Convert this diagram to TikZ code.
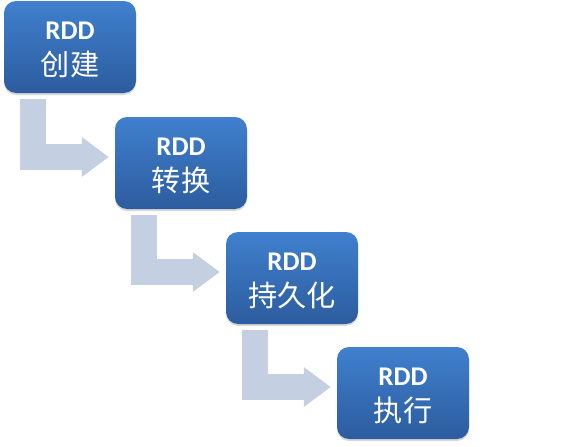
\documentclass[tikz,border=0pt]{standalone}
\usepackage{fontspec}
\setmainfont{Carlito}
\newfontfamily\cjk[Scale=1.08]{Noto Sans CJK SC}
\usetikzlibrary{arrows.meta,shadows}
\definecolor{stagetop}{RGB}{64,128,206}
\definecolor{stagebottom}{RGB}{44,92,158}
\definecolor{flowgray}{RGB}{197,207,226}
\newcommand{\stagetext}[1]{\rule{0pt}{24pt}\textbf{RDD}\\{\cjk #1}}
\begin{document}
\begin{tikzpicture}[x=1pt, y=-1pt,
		stage/.style={rounded corners=12pt, minimum width=132pt, minimum height=92pt, top color=stagetop, bottom color=stagebottom, text=white, align=center, font=\fontsize{27pt}{36pt}\selectfont, drop shadow={opacity=0.3, shadow xshift=0pt, shadow yshift=-2pt}},
		flow/.style={draw=flowgray, line width=26pt, line join=miter, -{Triangle[length=27pt, width=38pt]}, shorten >=6pt}]
		\useasboundingbox (0,0) rectangle (566,447);

		\node[stage] (create) at (70,47) {\stagetext{创建}};
		\node[stage] (transform) at (181,163) {\stagetext{转换}};
		\node[stage] (persist) at (292,278) {\stagetext{持久化}};
		\node[stage] (execute) at (403,393) {\stagetext{执行}};

		\draw[flow] ([xshift=29.5pt, yshift=-6pt]create.south west) |- ([yshift=6pt]transform.west);
		\draw[flow] ([xshift=29.5pt, yshift=-6pt]transform.south west) |- ([yshift=6pt]persist.west);
		\draw[flow] ([xshift=29.5pt, yshift=-6pt]persist.south west) |- ([yshift=6pt]execute.west);
	\end{tikzpicture}
\end{document}
